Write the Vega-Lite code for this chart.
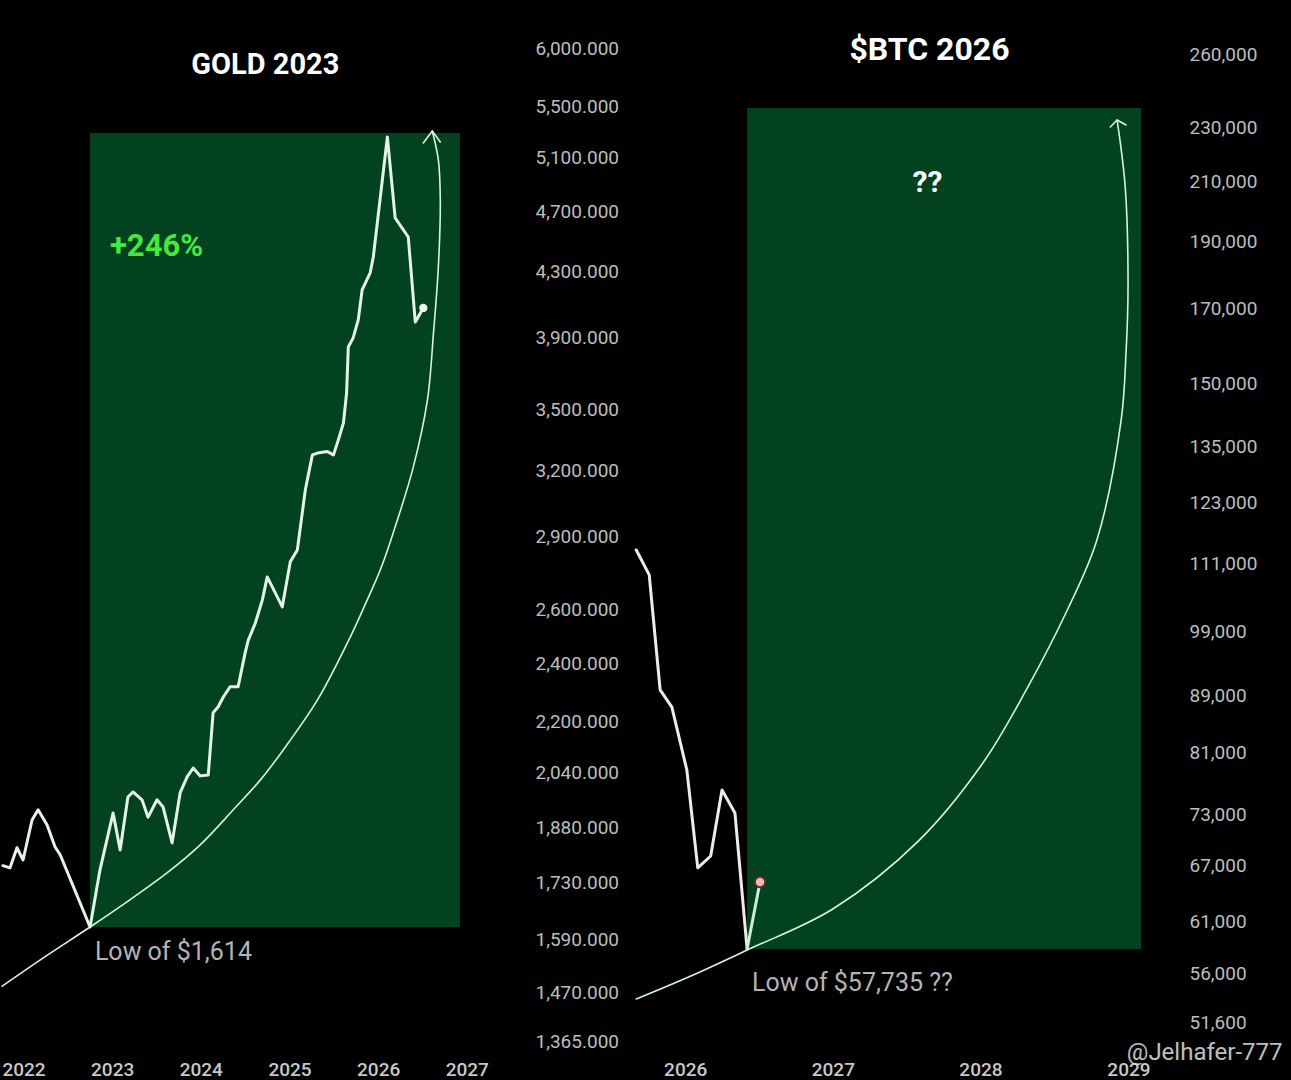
{
  "$schema": "https://vega.github.io/schema/vega-lite/v6.json",
  "background": "#000000",
  "padding": {"left": 0, "top": 0, "right": 12, "bottom": 4},
  "spacing": 10,
  "config": {
    "view": {"stroke": null},
    "font": "Roboto",
    "line": {"strokeJoin": "round", "strokeCap": "round"},
    "axis": {
      "grid": false,
      "domain": false,
      "ticks": false,
      "title": null,
      "labelFont": "Roboto",
      "labelFontSize": 19,
      "labelColor": "#bdbdbd",
      "labelFlush": false
    }
  },
  "datasets": {
    "gold": [
      {"date": "2021-10-08", "price": 1775}, {"date": "2021-11-06", "price": 1769},
      {"date": "2021-12-05", "price": 1823}, {"date": "2021-12-30", "price": 1790},
      {"date": "2022-02-05", "price": 1900}, {"date": "2022-03-02", "price": 1929},
      {"date": "2022-04-08", "price": 1886}, {"date": "2022-05-11", "price": 1825},
      {"date": "2022-06-01", "price": 1804}, {"date": "2022-10-02", "price": 1620},
      {"date": "2022-11-12", "price": 1764}, {"date": "2023-01-05", "price": 1920},
      {"date": "2023-02-03", "price": 1817}, {"date": "2023-03-07", "price": 1966},
      {"date": "2023-03-28", "price": 1981}, {"date": "2023-05-04", "price": 1958},
      {"date": "2023-05-29", "price": 1908}, {"date": "2023-07-05", "price": 1958},
      {"date": "2023-07-30", "price": 1937}, {"date": "2023-09-05", "price": 1836},
      {"date": "2023-10-08", "price": 1978}, {"date": "2023-11-06", "price": 2026},
      {"date": "2023-12-01", "price": 2053}, {"date": "2023-12-30", "price": 2029},
      {"date": "2024-02-01", "price": 2032}, {"date": "2024-02-21", "price": 2229},
      {"date": "2024-03-13", "price": 2249}, {"date": "2024-04-03", "price": 2282},
      {"date": "2024-05-01", "price": 2317}, {"date": "2024-06-03", "price": 2317},
      {"date": "2024-07-02", "price": 2437}, {"date": "2024-07-15", "price": 2484},
      {"date": "2024-08-13", "price": 2548}, {"date": "2024-09-11", "price": 2637},
      {"date": "2024-10-01", "price": 2729}, {"date": "2024-12-02", "price": 2610},
      {"date": "2025-01-04", "price": 2791}, {"date": "2025-02-02", "price": 2841},
      {"date": "2025-03-07", "price": 3107}, {"date": "2025-04-05", "price": 3273},
      {"date": "2025-04-26", "price": 3282}, {"date": "2025-06-06", "price": 3289},
      {"date": "2025-07-01", "price": 3273}, {"date": "2025-07-21", "price": 3347},
      {"date": "2025-08-11", "price": 3433}, {"date": "2025-08-24", "price": 3589},
      {"date": "2025-08-31", "price": 3844}, {"date": "2025-09-20", "price": 3896},
      {"date": "2025-10-11", "price": 4002}, {"date": "2025-10-27", "price": 4185},
      {"date": "2025-11-29", "price": 4292}, {"date": "2025-12-12", "price": 4395},
      {"date": "2026-02-08", "price": 5255}, {"date": "2026-03-12", "price": 4659},
      {"date": "2026-05-05", "price": 4528}, {"date": "2026-06-03", "price": 3989},
      {"date": "2026-07-06", "price": 4074}
    ],
    "goldArc": [
      {"i": 0, "date": "2021-10-04", "price": 1483}, {"i": 1, "date": "2022-03-31", "price": 1550},
      {"i": 2, "date": "2022-10-02", "price": 1620}, {"i": 3, "date": "2023-03-15", "price": 1687},
      {"i": 4, "date": "2023-08-15", "price": 1756}, {"i": 5, "date": "2023-12-30", "price": 1831},
      {"i": 6, "date": "2024-05-14", "price": 1929}, {"i": 7, "date": "2024-09-03", "price": 2017},
      {"i": 8, "date": "2024-12-06", "price": 2109}, {"i": 9, "date": "2025-04-26", "price": 2272},
      {"i": 10, "date": "2025-09-08", "price": 2495}, {"i": 11, "date": "2025-11-17", "price": 2637},
      {"i": 12, "date": "2026-01-10", "price": 2758}, {"i": 13, "date": "2026-03-04", "price": 2914},
      {"i": 14, "date": "2026-05-26", "price": 3215}, {"i": 15, "date": "2026-07-23", "price": 3552},
      {"i": 16, "date": "2026-08-17", "price": 3925}, {"i": 17, "date": "2026-09-06", "price": 4330},
      {"i": 18, "date": "2026-09-14", "price": 4785}, {"i": 19, "date": "2026-09-06", "price": 5079},
      {"i": 20, "date": "2026-08-12", "price": 5303}
    ],
    "goldHead": [
      {"i": 0, "date": "2026-07-06", "price": 5209},
      {"i": 1, "date": "2026-08-12", "price": 5303},
      {"i": 2, "date": "2026-09-14", "price": 5217}
    ],
    "btc": [
      {"date": "2025-09-02", "price": 113540}, {"date": "2025-10-04", "price": 108900},
      {"date": "2025-10-31", "price": 89860}, {"date": "2025-11-29", "price": 87330},
      {"date": "2026-01-05", "price": 78620}, {"date": "2026-02-01", "price": 66760},
      {"date": "2026-03-05", "price": 68090}, {"date": "2026-04-02", "price": 76030},
      {"date": "2026-05-04", "price": 73160}, {"date": "2026-06-03", "price": 58300}
    ],
    "btcLast": [
      {"date": "2026-06-03", "price": 58300}, {"date": "2026-07-05", "price": 65190}
    ],
    "btcArc": [
      {"i": 0, "date": "2025-09-02", "price": 53620}, {"i": 1, "date": "2026-01-15", "price": 55720},
      {"i": 2, "date": "2026-06-03", "price": 58190}, {"i": 3, "date": "2027-01-01", "price": 62320},
      {"i": 4, "date": "2027-08-01", "price": 69830}, {"i": 5, "date": "2028-01-07", "price": 79530},
      {"i": 6, "date": "2028-04-22", "price": 89720}, {"i": 7, "date": "2028-08-04", "price": 102870},
      {"i": 8, "date": "2028-10-15", "price": 115440}, {"i": 9, "date": "2028-12-14", "price": 141080},
      {"i": 10, "date": "2028-12-26", "price": 157780}, {"i": 11, "date": "2028-12-31", "price": 176160},
      {"i": 12, "date": "2028-12-24", "price": 208200}, {"i": 13, "date": "2028-12-04", "price": 232850}
    ],
    "btcHead": [
      {"i": 0, "date": "2028-11-17", "price": 230150},
      {"i": 1, "date": "2028-12-04", "price": 232850},
      {"i": 2, "date": "2028-12-26", "price": 230940}
    ]
  },
  "hconcat": [
    {
      "width": 525,
      "height": 1050,
      "layer": [
        {
          "data": {"values": [{"start": "2022-10-02", "end": "2026-12-04", "low": 1620, "high": 5287}]},
          "mark": {"type": "rect", "color": "#03421f"},
          "encoding": {
            "x": {
              "field": "start", "type": "temporal",
              "scale": {"nice": false, "domain": [{"year": 2021, "month": 9, "date": 26}, {"year": 2027, "month": 8, "date": 29}]},
              "axis": {
                "values": [{"year": 2022, "month": 1, "date": 1}, {"year": 2023, "month": 1, "date": 1}, {"year": 2024, "month": 1, "date": 1}, {"year": 2025, "month": 1, "date": 1}, {"year": 2026, "month": 1, "date": 1}, {"year": 2027, "month": 1, "date": 1}],
                "format": "%Y", "labelPadding": 10, "labelFontWeight": 500, "labelColor": "#c8c8c8"
              }
            },
            "x2": {"field": "end"},
            "y": {
              "field": "low", "type": "quantitative",
              "scale": {"type": "log", "nice": false, "domain": [1348.8, 6445]},
              "axis": {
                "orient": "right", "format": ",.3f", "labelPadding": 10,
                "values": [6000, 5500, 5100, 4700, 4300, 3900, 3500, 3200, 2900, 2600, 2400, 2200, 2040, 1880, 1730, 1590, 1470, 1365]
              }
            },
            "y2": {"field": "high"}
          }
        },
        {
          "data": {"name": "goldArc"},
          "mark": {"type": "line", "color": "#d6f5df", "strokeWidth": 1.6, "interpolate": "catmull-rom"},
          "encoding": {
            "x": {"field": "date", "type": "temporal"},
            "y": {"field": "price", "type": "quantitative"},
            "order": {"field": "i"}
          }
        },
        {
          "data": {"name": "goldHead"},
          "mark": {"type": "line", "color": "#d6f5df", "strokeWidth": 1.6},
          "encoding": {
            "x": {"field": "date", "type": "temporal"},
            "y": {"field": "price", "type": "quantitative"},
            "order": {"field": "i"}
          }
        },
        {
          "data": {"name": "gold"},
          "mark": {"type": "line", "color": "#e4f3e8", "strokeWidth": 3},
          "encoding": {
            "x": {"field": "date", "type": "temporal"},
            "y": {"field": "price", "type": "quantitative"}
          }
        },
        {
          "data": {"values": [{"date": "2026-07-06", "price": 4074}]},
          "mark": {"type": "point", "filled": true, "color": "#eef5ef", "size": 70, "opacity": 1},
          "encoding": {
            "x": {"field": "date", "type": "temporal"},
            "y": {"field": "price", "type": "quantitative"}
          }
        },
        {
          "data": {"values": [{"date": "2024-09-23", "price": 5850, "label": "GOLD 2023"}]},
          "mark": {"type": "text", "font": "Roboto", "fontWeight": "bold", "fontSize": 29, "color": "#ffffff", "align": "center", "baseline": "middle"},
          "encoding": {
            "x": {"field": "date", "type": "temporal"},
            "y": {"field": "price", "type": "quantitative"},
            "text": {"field": "label"}
          }
        },
        {
          "data": {"values": [{"date": "2022-12-23", "price": 4461, "label": "+246%"}]},
          "mark": {"type": "text", "font": "Roboto", "fontWeight": "bold", "fontSize": 31, "color": "#45e83c", "align": "left", "baseline": "middle"},
          "encoding": {
            "x": {"field": "date", "type": "temporal"},
            "y": {"field": "price", "type": "quantitative"},
            "text": {"field": "label"}
          }
        },
        {
          "data": {"values": [{"date": "2022-10-22", "price": 1561, "label": "Low of $1,614"}]},
          "mark": {"type": "text", "font": "Roboto", "fontSize": 25, "color": "#b4b4b4", "align": "left", "baseline": "middle"},
          "encoding": {
            "x": {"field": "date", "type": "temporal"},
            "y": {"field": "price", "type": "quantitative"},
            "text": {"field": "label"}
          }
        }
      ]
    },
    {
      "width": 550,
      "height": 1050,
      "layer": [
        {
          "data": {"values": [{"start": "2026-06-03", "end": "2029-02-01", "low": 58300, "high": 237570}]},
          "mark": {"type": "rect", "color": "#03421f"},
          "encoding": {
            "x": {
              "field": "start", "type": "temporal",
              "scale": {"nice": false, "domain": [{"year": 2025, "month": 8, "date": 15}, {"year": 2029, "month": 5, "date": 6}]},
              "axis": {
                "values": [{"year": 2026, "month": 1, "date": 1}, {"year": 2027, "month": 1, "date": 1}, {"year": 2028, "month": 1, "date": 1}, {"year": 2029, "month": 1, "date": 1}],
                "format": "%Y", "labelPadding": 10, "labelFontWeight": 500, "labelColor": "#c8c8c8"
              }
            },
            "x2": {"field": "end"},
            "y": {
              "field": "low", "type": "quantitative",
              "scale": {"type": "log", "nice": false, "domain": [49242, 284550]},
              "axis": {
                "orient": "right", "format": ",d", "labelPadding": 10,
                "values": [260000, 230000, 210000, 190000, 170000, 150000, 135000, 123000, 111000, 99000, 89000, 81000, 73000, 67000, 61000, 56000, 51600]
              }
            },
            "y2": {"field": "high"}
          }
        },
        {
          "data": {"name": "btcArc"},
          "mark": {"type": "line", "color": "#d6f5df", "strokeWidth": 1.6, "interpolate": "catmull-rom"},
          "encoding": {
            "x": {"field": "date", "type": "temporal"},
            "y": {"field": "price", "type": "quantitative"},
            "order": {"field": "i"}
          }
        },
        {
          "data": {"name": "btcHead"},
          "mark": {"type": "line", "color": "#d6f5df", "strokeWidth": 1.6},
          "encoding": {
            "x": {"field": "date", "type": "temporal"},
            "y": {"field": "price", "type": "quantitative"},
            "order": {"field": "i"}
          }
        },
        {
          "data": {"name": "btc"},
          "mark": {"type": "line", "color": "#ececec", "strokeWidth": 3},
          "encoding": {
            "x": {"field": "date", "type": "temporal"},
            "y": {"field": "price", "type": "quantitative"}
          }
        },
        {
          "data": {"name": "btcLast"},
          "mark": {"type": "line", "color": "#c9efd6", "strokeWidth": 3},
          "encoding": {
            "x": {"field": "date", "type": "temporal"},
            "y": {"field": "price", "type": "quantitative"}
          }
        },
        {
          "data": {"values": [{"date": "2026-07-05", "price": 65190}]},
          "mark": {"type": "point", "filled": true, "color": "#e9b9ad", "size": 110, "stroke": "#5a2a22", "strokeWidth": 2, "opacity": 1},
          "encoding": {
            "x": {"field": "date", "type": "temporal"},
            "y": {"field": "price", "type": "quantitative"}
          }
        },
        {
          "data": {"values": [{"date": "2027-08-28", "price": 261760, "label": "$BTC 2026"}]},
          "mark": {"type": "text", "font": "Roboto", "fontWeight": "bold", "fontSize": 32, "color": "#ffffff", "align": "center", "baseline": "middle"},
          "encoding": {
            "x": {"field": "date", "type": "temporal"},
            "y": {"field": "price", "type": "quantitative"},
            "text": {"field": "label"}
          }
        },
        {
          "data": {"values": [{"date": "2027-08-23", "price": 209600, "label": "??"}]},
          "mark": {"type": "text", "font": "Roboto", "fontWeight": "bold", "fontSize": 30, "color": "#ffffff", "align": "center", "baseline": "middle"},
          "encoding": {
            "x": {"field": "date", "type": "temporal"},
            "y": {"field": "price", "type": "quantitative"},
            "text": {"field": "label"}
          }
        },
        {
          "data": {"values": [{"date": "2026-06-15", "price": 55090, "label": "Low of $57,735 ??"}]},
          "mark": {"type": "text", "font": "Roboto", "fontSize": 25, "color": "#b4b4b4", "align": "left", "baseline": "middle"},
          "encoding": {
            "x": {"field": "date", "type": "temporal"},
            "y": {"field": "price", "type": "quantitative"},
            "text": {"field": "label"}
          }
        },
        {
          "data": {"values": [{"date": "2028-12-28", "price": 49000, "label": "@Jelhafer-777"}]},
          "mark": {"type": "text", "font": "Roboto", "fontSize": 24, "color": "#e0e0e0", "opacity": 0.85, "align": "left", "baseline": "middle"},
          "encoding": {
            "x": {"field": "date", "type": "temporal"},
            "y": {"field": "price", "type": "quantitative"},
            "text": {"field": "label"}
          }
        }
      ]
    }
  ]
}
